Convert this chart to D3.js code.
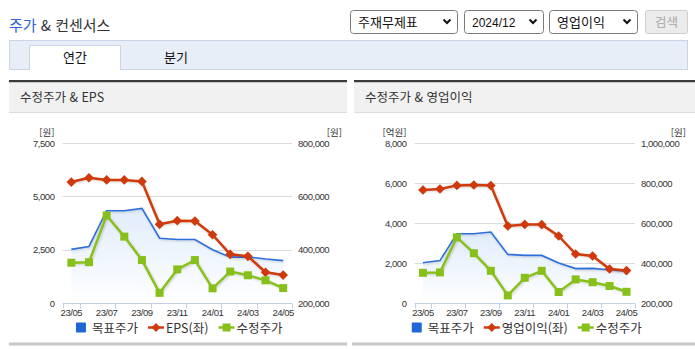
<!DOCTYPE html>
<html lang="ko">
<head>
<meta charset="utf-8">
<title>주가 &amp; 컨센서스</title>
<script src="https://cdn.jsdelivr.net/npm/d3@7/dist/d3.min.js"></script>
<style>
  html, body { margin: 0; padding: 0; background: #fff; }
  svg { display: block; }
  text { font-family: "Noto Sans CJK KR", "Noto Sans", sans-serif; }
  .num { font-family: "Liberation Sans", Arial, sans-serif; }
</style>
</head>
<body>
<svg id="page" width="695" height="349"></svg>
<script>
// Monthly consensus data, 2023/05 – 2024/05
const months = ["23/05","23/06","23/07","23/08","23/09","23/10","23/11","23/12","24/01","24/02","24/03","24/04","24/05"];
const monthTicks = ["23/05","23/07","23/09","23/11","24/01","24/03","24/05"];

// 목표주가 (원)
const targetPrice = [401000, 412000, 546000, 546000, 555000, 443000, 438000, 438000, 400000, 372000, 373000, 365000, 359000];
// 수정주가 (원)
const adjPrice = [351000, 353000, 528000, 449000, 361000, 238000, 326000, 361000, 255000, 318000, 304000, 285000, 256000];
// EPS (원)
const eps = [5670, 5870, 5770, 5770, 5700, 3690, 3860, 3840, 3200, 2280, 2190, 1440, 1310];
// 영업이익 (억원)
const opProfit = [5650, 5700, 5880, 5900, 5870, 3850, 3930, 3920, 3350, 2450, 2350, 1700, 1620];

const epsTicks = [0, 2500, 5000, 7500];
const epsPriceTicks = [200000, 400000, 600000, 800000];
const opTicks = [0, 2000, 4000, 6000, 8000];
const opPriceTicks = [200000, 400000, 600000, 800000, 1000000];

const C = {
  blue: "#2f6fd8",
  blueLegend: "#1f66d6",
  red: "#cf3a0c",
  green: "#88c01b",
  grid: "#dcdcdc",
  axis: "#c3d0e0",
  text: "#333"
};

const svg = d3.select("#page");
const defs = svg.append("defs");

const grad = defs.append("linearGradient").attr("id", "areaFill")
  .attr("x1", 0).attr("y1", 0).attr("x2", 0).attr("y2", 1);
grad.append("stop").attr("offset", "0%").attr("stop-color", "#e0ecfb");
grad.append("stop").attr("offset", "100%").attr("stop-color", "#ffffff");

const shadow = defs.append("filter").attr("id", "lineShadow")
  .attr("x", "-5%").attr("y", "-5%").attr("width", "115%").attr("height", "120%");
shadow.append("feDropShadow").attr("dx", 1).attr("dy", 1)
  .attr("stdDeviation", 1).attr("flood-color", "#000").attr("flood-opacity", 0.18);

// ---------- page header ----------
const title = svg.append("text").attr("x", 9).attr("y", 31)
  .attr("font-size", 15).attr("fill", C.text);
title.append("tspan").attr("fill", "#2b5fd3").text("주가");
title.append("tspan").text(" & 컨센서스");

function selectBox(x, w, label, chevX, isNum) {
  const g = svg.append("g");
  g.append("rect").attr("x", x + 0.5).attr("y", 10.5).attr("width", w).attr("height", 23)
    .attr("rx", 3).attr("fill", "#fff").attr("stroke", "#7a7a7a");
  g.append("text").attr("x", x + 8).attr("y", 26.5)
    .attr("class", isNum ? "num" : null)
    .attr("font-size", isNum ? 12 : 13).attr("fill", "#111").text(label);
  g.append("path")
    .attr("d", `M${chevX - 3.5},${19.5} L${chevX},${23} L${chevX + 3.5},${19.5}`)
    .attr("fill", "none").attr("stroke", "#111").attr("stroke-width", 2);
}
selectBox(350, 107, "주재무제표", 447, false);
selectBox(464, 79, "2024/12", 533, true);
selectBox(549, 88, "영업이익", 627, false);

svg.append("rect").attr("x", 645.5).attr("y", 10.5).attr("width", 42).attr("height", 23)
  .attr("rx", 2).attr("fill", "#ebebeb").attr("stroke", "#cfcfcf");
svg.append("text").attr("x", 666.5).attr("y", 26.5).attr("text-anchor", "middle")
  .attr("font-size", 12.5).attr("fill", "#a8a8a8").text("검색");

// ---------- tab bar ----------
svg.append("rect").attr("x", 9.5).attr("y", 40.5).attr("width", 678).attr("height", 29)
  .attr("fill", "#e8eef8").attr("stroke", "#c9d4e6");
svg.append("path").attr("d", "M29.5,69.5 V45.5 H120.5 V69.5")
  .attr("fill", "#fff").attr("stroke", "#c9d4e6");
svg.append("rect").attr("x", 30).attr("y", 69).attr("width", 90).attr("height", 1.5).attr("fill", "#fff");
svg.append("text").attr("x", 75).attr("y", 62).attr("text-anchor", "middle")
  .attr("font-size", 13).attr("fill", "#111").text("연간");
svg.append("text").attr("x", 176).attr("y", 62).attr("text-anchor", "middle")
  .attr("font-size", 13).attr("fill", "#111").text("분기");

// ---------- chart panels ----------
function panel(cfg) {
  const g = svg.append("g");
  // panel frame
  g.append("rect").attr("x", cfg.px).attr("y", 80).attr("width", cfg.pw).attr("height", 2.5).attr("fill", "#3a3a3a");
  g.append("rect").attr("x", cfg.px).attr("y", 82.5).attr("width", cfg.pw).attr("height", 30).attr("fill", "#f1f1f1");
  g.append("rect").attr("x", cfg.px).attr("y", 112).attr("width", cfg.pw).attr("height", 1).attr("fill", "#dedede");
  g.append("text").attr("x", cfg.px + 11).attr("y", 102).attr("font-size", 12.5)
    .attr("fill", C.text).text(cfg.title);
  g.append("rect").attr("x", cfg.bx).attr("y", 342.5).attr("width", cfg.bw).attr("height", 3).attr("fill", "#c8c8c8");

  const x = d3.scaleBand().domain(months).range([cfg.x0, cfg.x1]).padding(0);
  const cx = d => x(d) + x.bandwidth() / 2;
  const yL = d3.scaleLinear().domain(cfg.leftDomain).range([303, 143]);
  const yR = d3.scaleLinear().domain(cfg.rightDomain).range([303, 143]);

  // grid lines
  g.append("g").selectAll("line").data(cfg.leftTicks.filter(v => v !== cfg.leftDomain[0])).join("line")
    .attr("x1", cfg.x0).attr("x2", cfg.x1)
    .attr("y1", d => Math.round(yL(d)) + 0.5).attr("y2", d => Math.round(yL(d)) + 0.5)
    .attr("stroke", C.grid);

  // left axis labels
  g.append("g").selectAll("text").data(cfg.leftTicks).join("text")
    .attr("class", "num").attr("x", cfg.x0 - 8).attr("y", d => yL(d) + 3.5)
    .attr("text-anchor", "end").attr("font-size", 9.5).attr("letter-spacing", -0.45)
    .attr("fill", C.text).text(d => d3.format(",")(d));
  g.append("text").attr("x", cfg.x0 - 8).attr("y", 136).attr("text-anchor", "end")
    .attr("font-size", 9.5).attr("fill", C.text).text(cfg.leftUnit);

  // right axis labels
  g.append("g").selectAll("text").data(cfg.rightTicks).join("text")
    .attr("class", "num").attr("x", cfg.x1 + 6).attr("y", d => yR(d) + 3.5)
    .attr("text-anchor", "start").attr("font-size", 9.5).attr("letter-spacing", -0.45)
    .attr("fill", C.text).text(d => d3.format(",")(d));
  g.append("text").attr("x", cfg.rightUnitX).attr("y", 136).attr("text-anchor", "end")
    .attr("font-size", 9.5).attr("fill", C.text).text("[원]");

  // x axis line, ticks at band edges, labels every other month
  g.append("line").attr("x1", cfg.x0).attr("x2", cfg.x1).attr("y1", 303.5).attr("y2", 303.5)
    .attr("stroke", C.axis);
  const edges = [0, 1, 3, 5, 7, 9, 11, 13].map(k => cfg.x0 + k * x.step());
  g.append("g").selectAll("line").data(edges).join("line")
    .attr("x1", d => Math.round(d) + 0.5).attr("x2", d => Math.round(d) + 0.5)
    .attr("y1", 303.5).attr("y2", 308.5).attr("stroke", C.axis);
  g.append("g").selectAll("text").data(monthTicks).join("text")
    .attr("class", "num").attr("x", d => cx(d)).attr("y", 315.5)
    .attr("text-anchor", "middle").attr("font-size", 9.5).attr("letter-spacing", -0.45)
    .attr("fill", C.text).text(d => d);

  // target price area + line
  const tp = months.map((m, i) => [cx(m), yR(targetPrice[i])]);
  g.append("path")
    .attr("d", d3.area().x(d => d[0]).y0(303).y1(d => d[1])(tp))
    .attr("fill", "url(#areaFill)");
  g.append("path").attr("d", d3.line()(tp))
    .attr("fill", "none").attr("stroke", C.blue).attr("stroke-width", 1.6)
    .attr("filter", "url(#lineShadow)");

  // left-axis series (EPS / 영업이익)
  const lp = months.map((m, i) => [cx(m), yL(cfg.leftValues[i])]);
  g.append("path").attr("d", d3.line()(lp))
    .attr("fill", "none").attr("stroke", C.red).attr("stroke-width", 2.5)
    .attr("stroke-linejoin", "round").attr("filter", "url(#lineShadow)");
  g.append("g").selectAll("path").data(lp).join("path")
    .attr("transform", d => `translate(${d[0]},${d[1]})`)
    .attr("d", d3.symbol(d3.symbolDiamond2, 60)).attr("fill", C.red);

  // adjusted price
  const ap = months.map((m, i) => [cx(m), yR(adjPrice[i])]);
  g.append("path").attr("d", d3.line()(ap))
    .attr("fill", "none").attr("stroke", C.green).attr("stroke-width", 2.5)
    .attr("stroke-linejoin", "round").attr("filter", "url(#lineShadow)");
  g.append("g").selectAll("rect").data(ap).join("rect")
    .attr("x", d => d[0] - 4).attr("y", d => d[1] - 4)
    .attr("width", 8).attr("height", 8).attr("fill", C.green);

  // legend
  const lg = g.append("g");
  const items = [
    { name: "목표주가", kind: "area" },
    { name: cfg.leftName, kind: "red" },
    { name: "수정주가", kind: "green" }
  ];
  const ly = 327.5;
  let cursor = 0;
  const parts = [];
  items.forEach((it, i) => {
    const ig = lg.append("g");
    let sw;
    if (it.kind === "area") {
      ig.append("rect").attr("x", 0).attr("y", ly - 5).attr("width", 10).attr("height", 10)
        .attr("rx", 1).attr("fill", C.blueLegend);
      sw = 16;
    } else {
      const col = it.kind === "red" ? C.red : C.green;
      ig.append("line").attr("x1", 0).attr("x2", 16).attr("y1", ly).attr("y2", ly)
        .attr("stroke", col).attr("stroke-width", 2.5);
      if (it.kind === "red") {
        ig.append("path").attr("transform", `translate(8,${ly})`)
          .attr("d", d3.symbol(d3.symbolDiamond2, 50)).attr("fill", col);
      } else {
        ig.append("rect").attr("x", 4).attr("y", ly - 4).attr("width", 8).attr("height", 8).attr("fill", col);
      }
      sw = 18;
    }
    const t = ig.append("text").attr("x", sw).attr("y", ly + 5)
      .attr("font-size", 12.5).attr("fill", C.text).text(it.name);
    const w = sw + t.node().getComputedTextLength();
    parts.push({ g: ig, offset: cursor });
    cursor += w + 10;
  });
  const total = cursor - 10;
  const start = (cfg.x0 + cfg.x1) / 2 - total / 2 + 2;
  parts.forEach(p => p.g.attr("transform", `translate(${start + p.offset},0)`));
}

panel({
  px: 9, pw: 338, bx: 9, bw: 338,
  title: "수정주가 & EPS",
  x0: 62.5, x1: 292,
  leftDomain: [0, 7500], leftTicks: epsTicks, leftValues: eps, leftUnit: "[원]", leftName: "EPS(좌)",
  rightDomain: [200000, 800000], rightTicks: epsPriceTicks, rightUnitX: 342
});

panel({
  px: 354, pw: 341, bx: 352, bw: 343,
  title: "수정주가 & 영업이익",
  x0: 414.5, x1: 635,
  leftDomain: [0, 8000], leftTicks: opTicks, leftValues: opProfit, leftUnit: "[억원]", leftName: "영업이익(좌)",
  rightDomain: [200000, 1000000], rightTicks: opPriceTicks, rightUnitX: 686
});
</script>
</body>
</html>
